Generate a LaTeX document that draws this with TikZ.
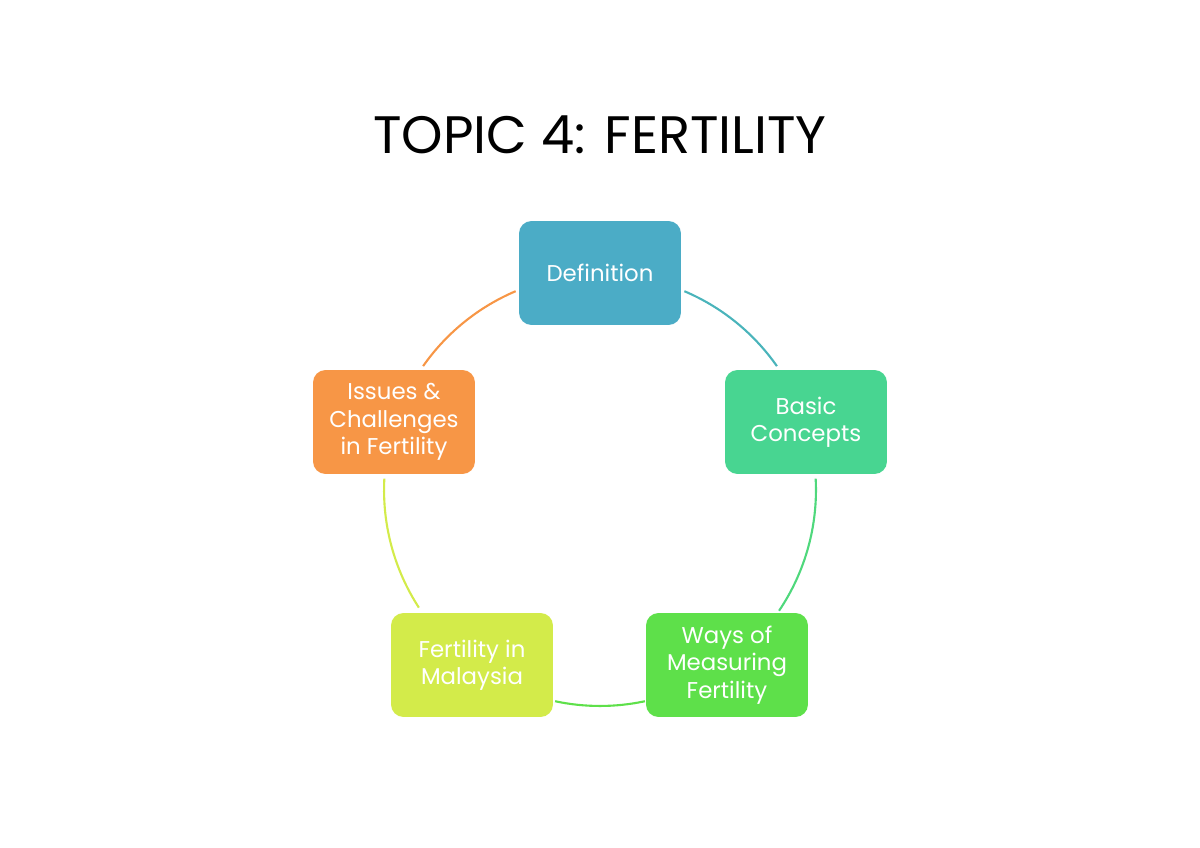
\documentclass[tikz,border=0pt]{standalone}
\usepackage{fontspec}
\setmainfont{Poppins}
\definecolor{cDef}{HTML}{4BACC6}
\definecolor{cBas}{HTML}{48D591}
\definecolor{cWay}{HTML}{5EE04A}
\definecolor{cMal}{HTML}{D3EB4A}
\definecolor{cIss}{HTML}{F79646}
\begin{document}
\begin{tikzpicture}[x=0.02cm,y=-0.02cm,
  box/.style={rounded corners=0.25cm,minimum width=3.24cm,minimum height=2.08cm,align=center,text=white,font=\fontsize{13}{15.5}\selectfont,inner sep=2pt},
  ring/.style={line width=1.2pt}]
\useasboundingbox (0,0) rectangle (1200,848);
\node[font=\fontsize{30}{36}\selectfont] (title) at (600,135) {TOPIC 4: FERTILITY};
\coordinate (c) at (600,490);
\draw[ring,cDef!80!cBas] ([shift={(67:4.32cm)}]c) arc[start angle=67,end angle=35,radius=4.32cm];
\draw[ring,cBas!70!cWay] ([shift={(3:4.32cm)}]c) arc[start angle=3,end angle=-34,radius=4.32cm];
\draw[ring,cWay] ([shift={(-78:4.32cm)}]c) arc[start angle=-78,end angle=-102,radius=4.32cm];
\draw[ring,cMal] ([shift={(-147:4.32cm)}]c) arc[start angle=-147,end angle=-183,radius=4.32cm];
\draw[ring,cIss] ([shift={(145:4.32cm)}]c) arc[start angle=145,end angle=113,radius=4.32cm];
\node[box,fill=cDef] (def) at (600,273) {Definition};
\node[box,fill=cBas] (bas) at (806,422) {Basic\\Concepts};
\node[box,fill=cWay] (way) at (727,665) {Ways of\\Measuring\\Fertility};
\node[box,fill=cMal] (mal) at (472,665) {Fertility in\\Malaysia};
\node[box,fill=cIss] (iss) at (394,422) {Issues \&\\Challenges\\in Fertility};
\end{tikzpicture}
\end{document}
